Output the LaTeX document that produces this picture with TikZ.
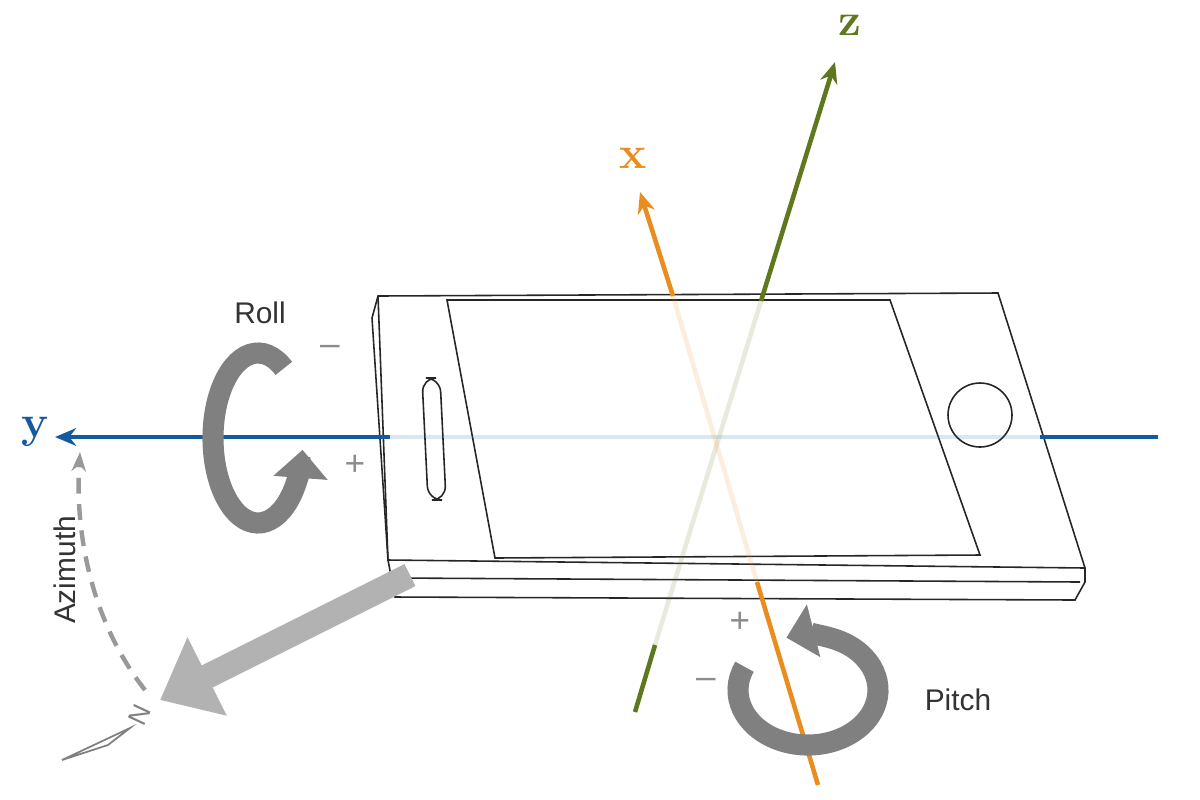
\documentclass[tikz,border=0pt]{standalone}
\usepackage{fontspec}
\setsansfont{Liberation Sans}
\usetikzlibrary{arrows.meta}
\definecolor{axisy}{RGB}{20,90,160}
\definecolor{axisx}{RGB}{235,140,30}
\definecolor{axisz}{RGB}{95,120,30}
\tikzset{
  axis/.style={line width=2.6pt},
  faded/.style={line width=2.6pt, opacity=0.15},
  lab/.style={font=\sffamily\fontsize{17}{20}\selectfont, text=black!80},
  axlab/.style={font=\bfseries\fontsize{26}{28}\selectfont},
  sign/.style={font=\sffamily\fontsize{20}{22}\selectfont, text=black!45},
  ring/.style={line width=12pt, draw=black!50},
  phone/.style={draw=black!85, line width=0.9pt}
}
\begin{document}
\begin{tikzpicture}[x=0.02cm, y=-0.02cm]
  \useasboundingbox (0,0) rectangle (1200,799);

        % phone
        \draw[phone, fill=white] (378,296) -- (998,293) -- (1085,568) -- (1085,582)
          -- (1075,600) -- (395,597) -- (388,560) -- (372,318) -- cycle;
        \draw[phone] (378,296) -- (388,560) -- (1085,568);
        \draw[phone] (395,578) -- (1080,582);
        \draw[phone] (447,300) -- (890,300) -- (980,555) -- (495,558) -- cycle;
        \draw[phone] (980,415) circle (32);
        \draw[phone, rounded corners=8pt] (422,378) -- (440,378) -- (446,500) -- (428,500) -- cycle;

        % axes
        \coordinate (o) at (715,437);
        \coordinate (yin) at (390,437);
        \coordinate (yout) at (1040,437);
        \draw[axis, axisy, -{Stealth[length=12pt,width=10pt]}] (yin) -- (55,437) coordinate (yend);
        \draw[axis, axisy] (yout) -- (1158,437);
        \draw[faded, axisy] (yin) -- (yout);
        \draw[axis, axisz] (635,712) -- (655,645);
        \draw[faded, axisz] (655,645) -- (761,301);
        \draw[axis, axisz, -{Stealth[length=12pt,width=10pt]}] (761,301) -- (835,62) coordinate (zend);
        \draw[axis, axisx] (818,785) -- (757,582);
        \draw[faded, axisx] (757,582) -- (673,296);
        \draw[axis, axisx, -{Stealth[length=12pt,width=10pt]}] (673,296) -- (640,192) coordinate (xend);
        \node[axlab, text=axisy] (ylab) at (35,432) {y};
        \node[axlab, text=axisz] (zlab) at (850,25) {z};
        \node[axlab, text=axisx] (xlab) at (633,158) {x};

        % roll
        \coordinate (rc) at (258,438);
        \draw[ring, -{Triangle[length=16pt,width=30pt]}] (rc) ++(-55:45 and 85)
          arc (-55:-352:45 and 85);
        \node[lab] (roll) at (260,313) {Roll};
        \node[sign] (rminus) at (330,350) {--};
        \node[sign] (rplus) at (355,465) {+};

        % pitch
        \coordinate (pc) at (808,690);
        \draw[ring, -{Triangle[length=16pt,width=30pt]}] (pc) ++(-155:70 and 55)
          arc (-155:-468:70 and 55);
        \node[lab] (pitch) at (958,700) {Pitch};
        \node[sign] (pplus) at (740,622) {+};
        \node[sign] (pminus) at (706,683) {--};

        % north
        \draw[line width=14pt, black!30, -{Triangle[length=30pt,width=48pt]}] (410,575) -- (160,700);
        \draw[black!40, line width=2.5pt, dash pattern=on 9pt off 6pt, -{Stealth[length=11pt]}] (145,690)
          .. controls (90,620) and (75,530) .. (80,452);
        \node[lab, rotate=90] (azi) at (65,570) {Azimuth};
        \draw[black!50, fill=white, line width=1pt] (62,760) -- (130,728) -- (108,745) -- cycle;
        \node[sign, rotate=-115, text=black!50, font=\sffamily\fontsize{15}{16}\selectfont] (north) at (140,715) {N};
\end{tikzpicture}
\end{document}
